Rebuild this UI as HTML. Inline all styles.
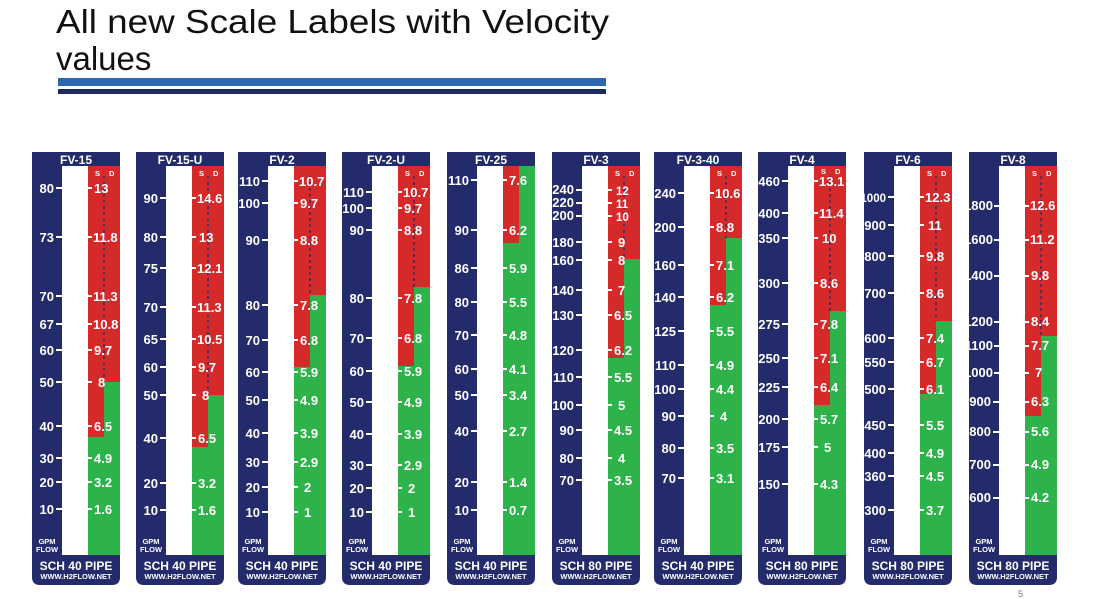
<!DOCTYPE html>
<html><head><meta charset="utf-8"><style>
html,body{margin:0;padding:0;background:#fff;}
svg{display:block;}
.t{font-family:"Liberation Sans",sans-serif;}
.n{font-family:"Liberation Sans",sans-serif;font-weight:bold;font-size:13px;fill:#fff;}
.h{font-family:"Liberation Sans",sans-serif;font-weight:bold;font-size:12px;fill:#fff;}
.s{font-family:"Liberation Sans",sans-serif;font-weight:bold;font-size:7.5px;fill:#fff;}
</style></head><body>
<svg width="1095" height="599" viewBox="0 0 1095 599" xmlns="http://www.w3.org/2000/svg">
<text x="56" y="33" class="t" font-size="33" fill="#111" textLength="553" lengthAdjust="spacingAndGlyphs">All new Scale Labels with Velocity</text>
<text x="56" y="70" class="t" font-size="33" fill="#111">values</text>
<rect x="58" y="78" width="548" height="8" fill="#2f66b0"/>
<rect x="58" y="89" width="548" height="5" fill="#1f2a5e"/>
<text x="1018" y="597" class="t" font-size="9" fill="#777">5</text>

<defs>
<g id="base">
<path d="M0 0 H88 V425 Q88 433 80 433 H8 Q0 433 0 425 Z" fill="#232b6b"/>
<rect x="30" y="14" width="26" height="389" fill="#fff"/>
<text x="15" y="392" class="s" text-anchor="middle">GPM</text>
<text x="15" y="400" class="s" text-anchor="middle">FLOW</text>
<text x="72" y="392" class="s" text-anchor="middle">ft/s</text>
<text x="72" y="400" class="s" text-anchor="middle">VEL</text>
<text x="44" y="427" class="s" text-anchor="middle">WWW.H2FLOW.NET</text>
</g>
</defs>

<g transform="translate(32,152)">
<use href="#base"/>
<rect x="56" y="14" width="32" height="389" fill="#d62a2a"/>
<rect x="56" y="285" width="16" height="118" fill="#2db34a"/>
<rect x="72" y="230" width="16" height="173" fill="#2db34a"/>
<line x1="72" y1="24" x2="72" y2="230" stroke="#232b6b" stroke-width="1.3" stroke-dasharray="3,3"/>
<text x="63" y="24" class="s" font-size="9">S</text><text x="77" y="24" class="s" font-size="9">D</text>
<text x="44" y="12" class="h" text-anchor="middle">FV-15</text>
<text x="44" y="418" class="h" text-anchor="middle">SCH 40 PIPE</text>
<g class="n" text-anchor="end"><text x="22" y="41">80</text><text x="22" y="90">73</text><text x="22" y="149">70</text><text x="22" y="177">67</text><text x="22" y="203">60</text><text x="22" y="235">50</text><text x="22" y="279">40</text><text x="22" y="311">30</text><text x="22" y="335">20</text><text x="22" y="362">10</text></g>
<g stroke="#fff" stroke-width="2"><path d="M24 36H30M24 85H30M24 144H30M24 172H30M24 198H30M24 230H30M24 274H30M24 306H30M24 330H30M24 357H30M56 36H60M56 85H60M56 144H60M56 172H60M56 198H60M56 230H60M56 274H60M56 306H60M56 330H60M56 357H60"/></g>
<g class="n"><text x="62" y="41">13</text><text x="61" y="90">11.8</text><text x="61" y="149">11.3</text><text x="61" y="177">10.8</text><text x="62" y="203">9.7</text><text x="66" y="235">8</text><text x="62" y="279">6.5</text><text x="62" y="311">4.9</text><text x="62" y="335">3.2</text><text x="62" y="362">1.6</text></g>
</g>

<g transform="translate(136,152)">
<use href="#base"/>
<rect x="56" y="14" width="32" height="389" fill="#d62a2a"/>
<rect x="56" y="295" width="16" height="108" fill="#2db34a"/>
<rect x="72" y="243" width="16" height="160" fill="#2db34a"/>
<line x1="72" y1="24" x2="72" y2="243" stroke="#232b6b" stroke-width="1.3" stroke-dasharray="3,3"/>
<text x="63" y="24" class="s" font-size="9">S</text><text x="77" y="24" class="s" font-size="9">D</text>
<text x="44" y="12" class="h" text-anchor="middle">FV-15-U</text>
<text x="44" y="418" class="h" text-anchor="middle">SCH 40 PIPE</text>
<g class="n" text-anchor="end"><text x="22" y="51">90</text><text x="22" y="90">80</text><text x="22" y="121">75</text><text x="22" y="160">70</text><text x="22" y="192">65</text><text x="22" y="220">60</text><text x="22" y="248">50</text><text x="22" y="291">40</text><text x="22" y="336">20</text><text x="22" y="363">10</text></g>
<g stroke="#fff" stroke-width="2"><path d="M24 46H30M24 85H30M24 116H30M24 155H30M24 187H30M24 215H30M24 243H30M24 286H30M24 331H30M24 358H30M56 46H60M56 85H60M56 116H60M56 155H60M56 187H60M56 215H60M56 243H60M56 286H60M56 331H60M56 358H60"/></g>
<g class="n"><text x="61" y="51">14.6</text><text x="63" y="90">13</text><text x="61" y="121">12.1</text><text x="61" y="160">11.3</text><text x="61" y="192">10.5</text><text x="62" y="220">9.7</text><text x="66" y="248">8</text><text x="62" y="291">6.5</text><text x="62" y="336">3.2</text><text x="62" y="363">1.6</text></g>
</g>

<g transform="translate(238,152)">
<use href="#base"/>
<rect x="56" y="14" width="32" height="389" fill="#d62a2a"/>
<rect x="56" y="215" width="16" height="188" fill="#2db34a"/>
<rect x="72" y="143" width="16" height="260" fill="#2db34a"/>
<line x1="72" y1="24" x2="72" y2="143" stroke="#232b6b" stroke-width="1.3" stroke-dasharray="3,3"/>
<text x="44" y="12" class="h" text-anchor="middle">FV-2</text>
<text x="44" y="418" class="h" text-anchor="middle">SCH 40 PIPE</text>
<g class="n" text-anchor="end"><text x="22" y="34">110</text><text x="22" y="56">100</text><text x="22" y="93">90</text><text x="22" y="158">80</text><text x="22" y="193">70</text><text x="22" y="225">60</text><text x="22" y="253">50</text><text x="22" y="286">40</text><text x="22" y="315">30</text><text x="22" y="340">20</text><text x="22" y="365">10</text></g>
<g stroke="#fff" stroke-width="2"><path d="M24 29H30M24 51H30M24 88H30M24 153H30M24 188H30M24 220H30M24 248H30M24 281H30M24 310H30M24 335H30M24 360H30M56 29H60M56 51H60M56 88H60M56 153H60M56 188H60M56 220H60M56 248H60M56 281H60M56 310H60M56 335H60M56 360H60"/></g>
<g class="n"><text x="61" y="34">10.7</text><text x="62" y="56">9.7</text><text x="62" y="93">8.8</text><text x="62" y="158">7.8</text><text x="62" y="193">6.8</text><text x="62" y="225">5.9</text><text x="62" y="253">4.9</text><text x="62" y="286">3.9</text><text x="62" y="315">2.9</text><text x="66" y="340">2</text><text x="66" y="365">1</text></g>
</g>

<g transform="translate(342,152)">
<use href="#base"/>
<rect x="56" y="14" width="32" height="389" fill="#d62a2a"/>
<rect x="56" y="214" width="16" height="189" fill="#2db34a"/>
<rect x="72" y="135" width="16" height="268" fill="#2db34a"/>
<line x1="72" y1="24" x2="72" y2="135" stroke="#232b6b" stroke-width="1.3" stroke-dasharray="3,3"/>
<text x="63" y="24" class="s" font-size="9">S</text><text x="77" y="24" class="s" font-size="9">D</text>
<text x="44" y="12" class="h" text-anchor="middle">FV-2-U</text>
<text x="44" y="418" class="h" text-anchor="middle">SCH 40 PIPE</text>
<g class="n" text-anchor="end"><text x="22" y="45">110</text><text x="22" y="61">100</text><text x="22" y="83">90</text><text x="22" y="151">80</text><text x="22" y="191">70</text><text x="22" y="224">60</text><text x="22" y="255">50</text><text x="22" y="287">40</text><text x="22" y="318">30</text><text x="22" y="341">20</text><text x="22" y="365">10</text></g>
<g stroke="#fff" stroke-width="2"><path d="M24 40H30M24 56H30M24 78H30M24 146H30M24 186H30M24 219H30M24 250H30M24 282H30M24 313H30M24 336H30M24 360H30M56 40H60M56 56H60M56 78H60M56 146H60M56 186H60M56 219H60M56 250H60M56 282H60M56 313H60M56 336H60M56 360H60"/></g>
<g class="n"><text x="61" y="45">10.7</text><text x="62" y="61">9.7</text><text x="62" y="83">8.8</text><text x="62" y="151">7.8</text><text x="62" y="191">6.8</text><text x="62" y="224">5.9</text><text x="62" y="255">4.9</text><text x="62" y="287">3.9</text><text x="62" y="318">2.9</text><text x="66" y="341">2</text><text x="66" y="365">1</text></g>
</g>

<g transform="translate(447,152)">
<use href="#base"/>
<rect x="56" y="14" width="32" height="389" fill="#2db34a"/>
<rect x="56" y="14" width="16" height="77" fill="#d62a2a"/>
<text x="44" y="12" class="h" text-anchor="middle">FV-25</text>
<text x="44" y="418" class="h" text-anchor="middle">SCH 40 PIPE</text>
<g class="n" text-anchor="end"><text x="22" y="33">110</text><text x="22" y="83">90</text><text x="22" y="121">86</text><text x="22" y="155">80</text><text x="22" y="188">70</text><text x="22" y="222">60</text><text x="22" y="248">50</text><text x="22" y="284">40</text><text x="22" y="335">20</text><text x="22" y="363">10</text></g>
<g stroke="#fff" stroke-width="2"><path d="M24 28H30M24 78H30M24 116H30M24 150H30M24 183H30M24 217H30M24 243H30M24 279H30M24 330H30M24 358H30M56 28H60M56 78H60M56 116H60M56 150H60M56 183H60M56 217H60M56 243H60M56 279H60M56 330H60M56 358H60"/></g>
<g class="n"><text x="62" y="33">7.6</text><text x="62" y="83">6.2</text><text x="62" y="121">5.9</text><text x="62" y="155">5.5</text><text x="62" y="188">4.8</text><text x="62" y="222">4.1</text><text x="62" y="248">3.4</text><text x="62" y="284">2.7</text><text x="62" y="335">1.4</text><text x="62" y="363">0.7</text></g>
</g>

<g transform="translate(552,152)">
<use href="#base"/>
<rect x="56" y="14" width="32" height="389" fill="#d62a2a"/>
<rect x="56" y="206" width="16" height="197" fill="#2db34a"/>
<rect x="72" y="107" width="16" height="296" fill="#2db34a"/>
<line x1="72" y1="24" x2="72" y2="107" stroke="#232b6b" stroke-width="1.3" stroke-dasharray="3,3"/>
<text x="63" y="24" class="s" font-size="9">S</text><text x="77" y="24" class="s" font-size="9">D</text>
<text x="44" y="12" class="h" text-anchor="middle">FV-3</text>
<text x="44" y="418" class="h" text-anchor="middle">SCH 80 PIPE</text>
<g class="n" text-anchor="end" font-size="11.5"><text x="22" y="42">240</text><text x="22" y="55">220</text><text x="22" y="68">200</text></g>
<g class="n" text-anchor="end"><text x="22" y="95">180</text><text x="22" y="113">160</text><text x="22" y="143">140</text><text x="22" y="168">130</text><text x="22" y="203">120</text><text x="22" y="230">110</text><text x="22" y="258">100</text><text x="22" y="283">90</text><text x="22" y="311">80</text><text x="22" y="333">70</text></g>
<g stroke="#fff" stroke-width="2"><path d="M24 38H30M24 51H30M24 64H30M24 90H30M24 108H30M24 138H30M24 163H30M24 198H30M24 225H30M24 253H30M24 278H30M24 306H30M24 328H30M56 38H60M56 51H60M56 64H60M56 90H60M56 108H60M56 138H60M56 163H60M56 198H60M56 225H60M56 253H60M56 278H60M56 306H60M56 328H60"/></g>
<g class="n"><text x="64" y="43" font-size="11.5">12</text><text x="64" y="56" font-size="11.5">11</text><text x="64" y="69" font-size="11.5">10</text><text x="66" y="95">9</text><text x="66" y="113">8</text><text x="66" y="143">7</text><text x="62" y="168">6.5</text><text x="62" y="203">6.2</text><text x="62" y="230">5.5</text><text x="66" y="258">5</text><text x="62" y="283">4.5</text><text x="66" y="311">4</text><text x="62" y="333">3.5</text></g>
</g>

<g transform="translate(654,152)">
<use href="#base"/>
<rect x="56" y="14" width="32" height="389" fill="#d62a2a"/>
<rect x="56" y="153" width="16" height="250" fill="#2db34a"/>
<rect x="72" y="86" width="16" height="317" fill="#2db34a"/>
<line x1="72" y1="24" x2="72" y2="86" stroke="#232b6b" stroke-width="1.3" stroke-dasharray="3,3"/>
<text x="63" y="24" class="s" font-size="9">S</text><text x="77" y="24" class="s" font-size="9">D</text>
<text x="44" y="12" class="h" text-anchor="middle">FV-3-40</text>
<text x="44" y="418" class="h" text-anchor="middle">SCH 40 PIPE</text>
<g class="n" text-anchor="end"><text x="22" y="46">240</text><text x="22" y="80">200</text><text x="22" y="118">160</text><text x="22" y="150">140</text><text x="22" y="184">125</text><text x="22" y="218">110</text><text x="22" y="242">100</text><text x="22" y="269">90</text><text x="22" y="301">80</text><text x="22" y="331">70</text></g>
<g stroke="#fff" stroke-width="2"><path d="M24 41H30M24 75H30M24 113H30M24 145H30M24 179H30M24 213H30M24 237H30M24 264H30M24 296H30M24 326H30M56 41H60M56 75H60M56 113H60M56 145H60M56 179H60M56 213H60M56 237H60M56 264H60M56 296H60M56 326H60"/></g>
<g class="n"><text x="61" y="46">10.6</text><text x="62" y="80">8.8</text><text x="62" y="118">7.1</text><text x="62" y="150">6.2</text><text x="62" y="184">5.5</text><text x="62" y="218">4.9</text><text x="62" y="242">4.4</text><text x="66" y="269">4</text><text x="62" y="301">3.5</text><text x="62" y="331">3.1</text></g>
</g>

<g transform="translate(758,152)">
<use href="#base"/>
<rect x="56" y="14" width="32" height="389" fill="#d62a2a"/>
<rect x="56" y="253" width="16" height="150" fill="#2db34a"/>
<rect x="72" y="159" width="16" height="244" fill="#2db34a"/>
<line x1="72" y1="24" x2="72" y2="159" stroke="#232b6b" stroke-width="1.3" stroke-dasharray="3,3"/>
<text x="63" y="22" class="s" font-size="8">S</text><text x="77" y="22" class="s" font-size="8">D</text>
<text x="44" y="12" class="h" text-anchor="middle">FV-4</text>
<text x="44" y="418" class="h" text-anchor="middle">SCH 80 PIPE</text>
<g class="n" text-anchor="end"><text x="22" y="34">460</text><text x="22" y="66">400</text><text x="22" y="91">350</text><text x="22" y="136">300</text><text x="22" y="177">275</text><text x="22" y="211">250</text><text x="22" y="240">225</text><text x="22" y="272">200</text><text x="22" y="300">175</text><text x="22" y="337">150</text></g>
<g stroke="#fff" stroke-width="2"><path d="M24 29H30M24 61H30M24 86H30M24 131H30M24 172H30M24 206H30M24 235H30M24 267H30M24 295H30M24 332H30M56 29H60M56 61H60M56 86H60M56 131H60M56 172H60M56 206H60M56 235H60M56 267H60M56 295H60M56 332H60"/></g>
<g class="n"><text x="61" y="34">13.1</text><text x="61" y="66">11.4</text><text x="64" y="91">10</text><text x="62" y="136">8.6</text><text x="62" y="177">7.8</text><text x="62" y="211">7.1</text><text x="62" y="240">6.4</text><text x="62" y="272">5.7</text><text x="66" y="300">5</text><text x="62" y="337">4.3</text></g>
</g>

<g transform="translate(864,152)">
<use href="#base"/>
<rect x="56" y="14" width="32" height="389" fill="#d62a2a"/>
<rect x="56" y="242" width="16" height="161" fill="#2db34a"/>
<rect x="72" y="169" width="16" height="234" fill="#2db34a"/>
<line x1="72" y1="24" x2="72" y2="169" stroke="#232b6b" stroke-width="1.3" stroke-dasharray="3,3"/>
<text x="63" y="24" class="s" font-size="9">S</text><text x="77" y="24" class="s" font-size="9">D</text>
<text x="44" y="12" class="h" text-anchor="middle">FV-6</text>
<text x="44" y="418" class="h" text-anchor="middle">SCH 80 PIPE</text>
<g class="n" text-anchor="end"><text x="22" y="50" font-size="11.5">1000</text><text x="22" y="78">900</text><text x="22" y="109">800</text><text x="22" y="146">700</text><text x="22" y="191">600</text><text x="22" y="215">550</text><text x="22" y="242">500</text><text x="22" y="278">450</text><text x="22" y="306">400</text><text x="22" y="329">360</text><text x="22" y="363">300</text></g>
<g stroke="#fff" stroke-width="2"><path d="M24 45H30M24 73H30M24 104H30M24 141H30M24 186H30M24 210H30M24 237H30M24 273H30M24 301H30M24 324H30M24 358H30M56 45H60M56 73H60M56 104H60M56 141H60M56 186H60M56 210H60M56 237H60M56 273H60M56 301H60M56 324H60M56 358H60"/></g>
<g class="n"><text x="61" y="50">12.3</text><text x="64" y="78">11</text><text x="62" y="109">9.8</text><text x="62" y="146">8.6</text><text x="62" y="191">7.4</text><text x="62" y="215">6.7</text><text x="62" y="242">6.1</text><text x="62" y="278">5.5</text><text x="62" y="306">4.9</text><text x="62" y="329">4.5</text><text x="62" y="363">3.7</text></g>
</g>

<g transform="translate(969,152)">
<use href="#base"/>
<rect x="56" y="14" width="32" height="389" fill="#d62a2a"/>
<rect x="56" y="264" width="16" height="139" fill="#2db34a"/>
<rect x="72" y="184" width="16" height="219" fill="#2db34a"/>
<line x1="72" y1="24" x2="72" y2="184" stroke="#232b6b" stroke-width="1.3" stroke-dasharray="3,3"/>
<text x="63" y="24" class="s" font-size="9">S</text><text x="77" y="24" class="s" font-size="9">D</text>
<text x="44" y="12" class="h" text-anchor="middle">FV-8</text>
<text x="44" y="418" class="h" text-anchor="middle">SCH 80 PIPE</text>
<g class="n" text-anchor="end" font-size="11.5"><text x="24" y="58">1800</text><text x="24" y="92">1600</text><text x="24" y="128">1400</text><text x="24" y="174">1200</text><text x="24" y="198">1100</text><text x="24" y="225">1000</text><text x="22" y="254">900</text><text x="22" y="284">800</text><text x="22" y="317">700</text><text x="22" y="350">600</text></g>
<g stroke="#fff" stroke-width="2"><path d="M25 54H30M25 88H30M25 124H30M25 170H30M25 194H30M25 221H30M24 250H30M24 280H30M24 313H30M24 346H30M56 54H60M56 88H60M56 124H60M56 170H60M56 194H60M56 221H60M56 250H60M56 280H60M56 313H60M56 346H60"/></g>
<g class="n"><text x="61" y="58">12.6</text><text x="61" y="92">11.2</text><text x="62" y="128">9.8</text><text x="62" y="174">8.4</text><text x="62" y="198">7.7</text><text x="66" y="225">7</text><text x="62" y="254">6.3</text><text x="62" y="284">5.6</text><text x="62" y="317">4.9</text><text x="62" y="350">4.2</text></g>
</g>
</svg>
</body></html>
